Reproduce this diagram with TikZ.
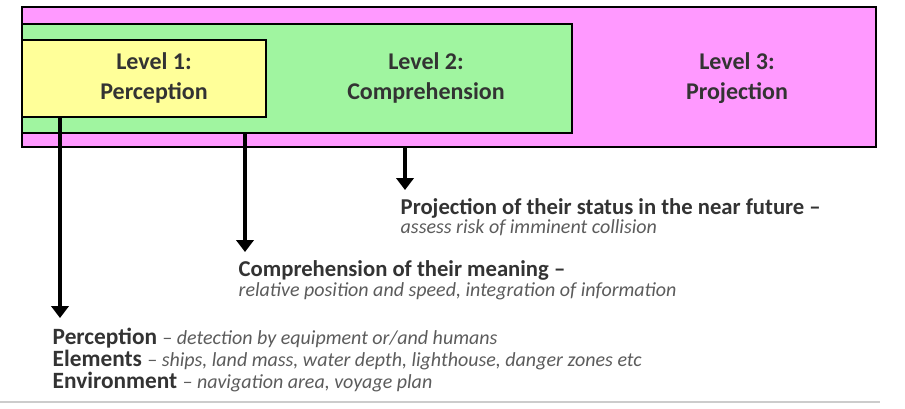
\documentclass[tikz,border=0pt]{standalone}
\usepackage{fontspec}
\setmainfont{Carlito}
\usetikzlibrary{arrows.meta}
\definecolor{mag}{HTML}{FF99FF}
\definecolor{grn}{HTML}{A0F5A0}
\definecolor{yel}{HTML}{FFFF99}
\definecolor{txt}{HTML}{333333}
\tikzset{lvl/.style={draw=black,line width=1.5pt},
 lab/.style={font=\bfseries\fontsize{18}{22}\selectfont,align=center,text=txt},
 arr/.style={line width=3pt,-{Triangle[length=9pt,width=13pt]}},
 head/.style={anchor=west,font=\fontsize{17}{19}\selectfont\bfseries,text=txt},
 sub/.style={anchor=west,font=\fontsize{15}{17}\selectfont\itshape,text=txt!80}}
\newcommand{\myhd}{\fontsize{17.5}{19}\selectfont\bfseries}
\newcommand{\mysb}{\mdseries\itshape\fontsize{15}{17}\selectfont\color{txt!80}}
\begin{document}
\begin{tikzpicture}[x=0.75pt,y=-0.75pt]
\useasboundingbox (0,0) rectangle (905,408);
\fill[white] (0,0) rectangle (905,408);
\draw[gray!40,line width=2pt] (0,402) -- (880,402);
\draw[lvl,fill=mag] (22,7) rectangle (876,147);
\draw[lvl,fill=grn] (22,24) rectangle (572,133);
\draw[lvl,fill=yel] (22,40) rectangle (266,117);
\node[lab] (l1) at (154,78) {Level 1:\\Perception};
\node[lab] (l2) at (426,78) {Level 2:\\Comprehension};
\node[lab] (l3) at (737,78) {Level 3:\\Projection};
\coordinate (a1) at (60,118); \coordinate (b1) at (60,318);
\coordinate (a2) at (245,134); \coordinate (b2) at (245,252);
\coordinate (a3) at (405,148); \coordinate (b3) at (405,190);
\draw[arr] (a1) -- (b1);
\draw[arr] (a2) -- (b2);
\draw[arr] (a3) -- (b3);
\node[head] (p3) at (396,208) {Projection of their status in the near future –};
\node[sub] (s3) at (396,228) {assess risk of imminent collision};
\node[head] (p2) at (234,270) {Comprehension of their meaning –};
\node[sub] (s2) at (234,291) {relative position and speed, integration of information};
\node[anchor=west,text=txt] (p1) at (48,338) {\myhd Perception \mysb– detection by equipment or/and humans};
\node[anchor=west,text=txt] (e1) at (48,360) {\myhd Elements \mysb– ships, land mass, water depth, lighthouse, danger zones etc};
\node[anchor=west,text=txt] (v1) at (48,382) {\myhd Environment \mysb– navigation area, voyage plan};
\end{tikzpicture}
\end{document}
